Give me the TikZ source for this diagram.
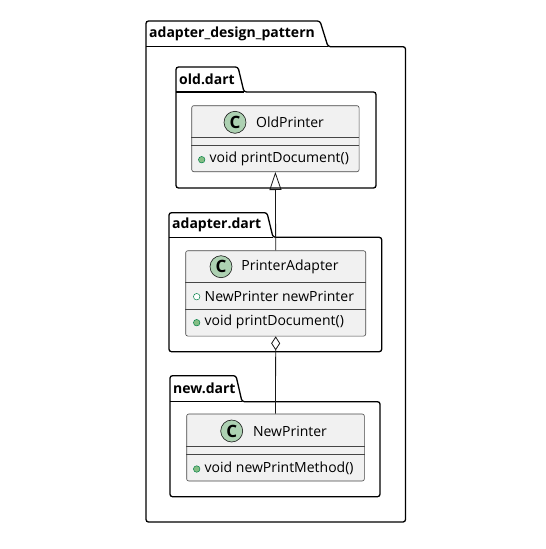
\documentclass[tikz,border=0pt]{standalone}
\usepackage{fontspec}
\setmainfont{Open Sans}
\usepackage{tikz}
\usetikzlibrary{shapes,arrows.meta,positioning,calc}
\definecolor{classFill}{HTML}{F1F1F1}
\definecolor{classLine}{HTML}{181818}
\definecolor{spotGreen}{HTML}{ADD1B2}
\definecolor{memberFill}{HTML}{84BE84}
\definecolor{memberLine}{HTML}{038048}

\begin{document}
\begin{tikzpicture}[x=1pt,y=-1pt,
    pkg/.style={draw=black, line width=1.3pt, rounded corners=2.5pt},
    pkglabel/.style={anchor=west, inner sep=1pt, font=\fontsize{14}{16}\selectfont\bfseries},
    classbox/.style={draw=classLine!80, line width=0.6pt, fill=classFill,
      rounded corners=2pt, inner sep=0pt},
    classline/.style={draw=classLine!80, line width=0.6pt},
    spot/.style={circle, draw=classLine, line width=0.6pt, fill=spotGreen,
      minimum size=22pt, inner sep=0pt, font=\fontsize{17}{17}\selectfont\bfseries},
    cname/.style={inner sep=0pt, font=\fontsize{14}{16}\selectfont},
    member/.style={anchor=west, inner sep=0pt, font=\fontsize{14}{16}\selectfont},
    pub/.style={circle, draw=memberLine, fill=memberFill, line width=0.5pt,
      minimum size=6.5pt, inner sep=0pt},
    pubfield/.style={circle, draw=memberLine, fill=white, line width=0.5pt,
      minimum size=6.5pt, inner sep=0pt},
    link/.style={draw=classLine, line width=0.8pt}
  ]
  \useasboundingbox (0,0) rectangle (546,549);

  % packages
  \draw[pkg] (146,522) -- (146,21) -- (320,21) -- (328,46.7) -- (405.5,46.7) -- (405.5,522) -- cycle;
  \draw[pkg] (146,46.7) -- (328,46.7);
  \node[pkglabel] (pkgRoot) at (148,33.8) {adapter\_design\_pattern};

  \draw[pkg] (176,188) -- (176,67) -- (238,67) -- (244,92) -- (376,92) -- (376,188) -- cycle;
  \draw[pkg] (176,92) -- (244,92);
  \node[pkglabel] (pkgOld) at (178,79.5) {old.dart};

  \draw[pkg] (169,351.7) -- (169,212.7) -- (267,212.7) -- (273,237.3) -- (381.7,237.3) -- (381.7,351.7) -- cycle;
  \draw[pkg] (169,237.3) -- (273,237.3);
  \node[pkglabel] (pkgAdapter) at (171,225) {adapter.dart};

  \draw[pkg] (170,496.7) -- (170,375.7) -- (236,375.7) -- (242,401.7) -- (380,401.7) -- (380,496.7) -- cycle;
  \draw[pkg] (170,401.7) -- (242,401.7);
  \node[pkglabel] (pkgNew) at (172,388.7) {new.dart};

  % OldPrinter
  \node[classbox, minimum width=167.3pt, minimum height=66pt] (oldPrinter) at (275.4,138.7) {};
  \node[spot] (oldSpot) at (235,122.3) {C};
  \node[cname] (oldName) at (290,122.3) {OldPrinter};
  \draw[classline] (oldPrinter.west |- 0,137.7) -- (oldPrinter.east |- 0,137.7);
  \draw[classline] (oldPrinter.west |- 0,145.7) -- (oldPrinter.east |- 0,145.7);
  \node[pub] (oldM1dot) at (201.7,159.7) {};
  \node[member] (oldM1) at (209.5,159.2) {void printDocument()};

  % PrinterAdapter
  \node[classbox, minimum width=180pt, minimum height=85.3pt] (printerAdapter) at (275.7,293.4) {};
  \node[spot] (adapterSpot) at (221,266.7) {C};
  \node[cname] (adapterName) at (290,266.7) {PrinterAdapter};
  \draw[classline] (printerAdapter.west |- 0,282.7) -- (printerAdapter.east |- 0,282.7);
  \draw[classline] (printerAdapter.west |- 0,309.3) -- (printerAdapter.east |- 0,309.3);
  \node[pubfield] (adapterA1dot) at (196.7,296.7) {};
  \node[member] (adapterA1) at (204.5,296.2) {NewPrinter newPrinter};
  \node[pub] (adapterM1dot) at (196.7,322.7) {};
  \node[member] (adapterM1) at (204.5,322.2) {void printDocument()};

  % NewPrinter
  \node[classbox, minimum width=177.6pt, minimum height=67pt] (newPrinter) at (275.5,447.5) {};
  \node[spot] (newSpot) at (231.7,431) {C};
  \node[cname] (newName) at (290,431) {NewPrinter};
  \draw[classline] (newPrinter.west |- 0,446.7) -- (newPrinter.east |- 0,446.7);
  \draw[classline] (newPrinter.west |- 0,454.3) -- (newPrinter.east |- 0,454.3);
  \node[pub] (newM1dot) at (196.7,469) {};
  \node[member] (newM1) at (204.5,468.5) {void newPrintMethod()};

  % relations
  \draw[link, -{Triangle[open, length=18pt, width=12pt]}] (printerAdapter.north) -- (oldPrinter.south);
  \draw[link, {Diamond[open, length=14pt, width=9pt]}-] (printerAdapter.south) -- (newPrinter.north);
\end{tikzpicture}
\end{document}
